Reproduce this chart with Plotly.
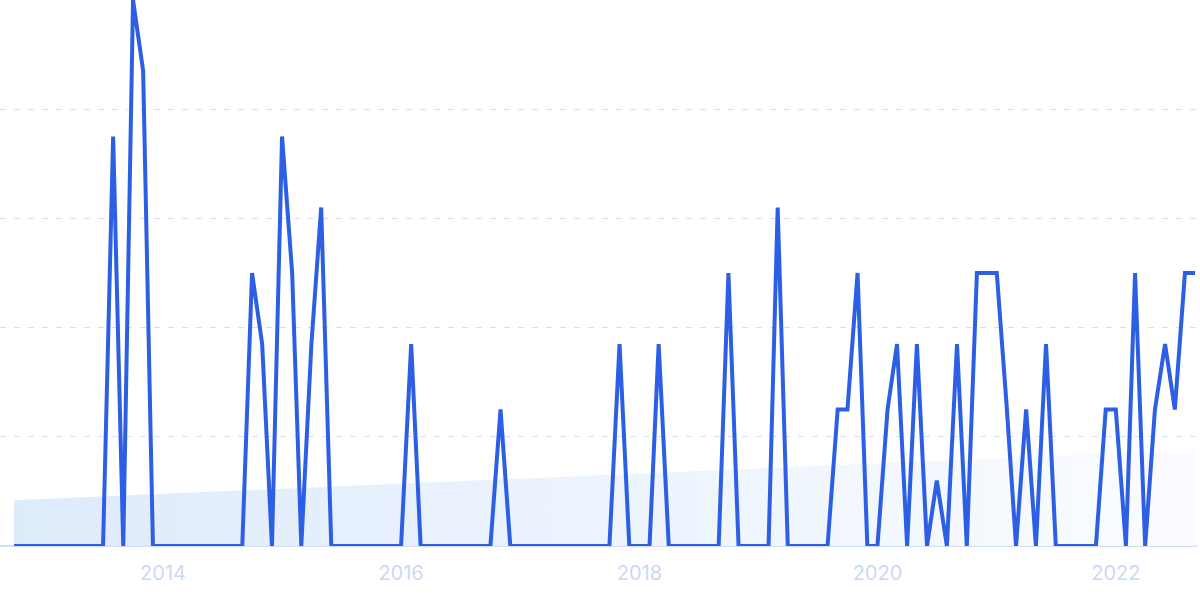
import pandas as pd
import plotly.graph_objects as go

# Monthly series, Oct 2012 .. Sep 2022
start_month = "2012-10-01"
values = [
    0, 0, 0, 0, 0, 0, 0, 0, 0, 0,        # 2012-10 .. 2013-07
    75, 0, 100, 87, 0, 0, 0, 0, 0, 0,    # 2013-08 .. 2014-05
    0, 0, 0, 0, 50, 37, 0, 75, 50, 0,    # 2014-06 .. 2015-03
    37, 62, 0, 0, 0, 0, 0, 0, 0, 0,      # 2015-04 .. 2016-01
    37, 0, 0, 0, 0, 0, 0, 0, 0, 25,      # 2016-02 .. 2016-11
    0, 0, 0, 0, 0, 0, 0, 0, 0, 0,        # 2016-12 .. 2017-09
    0, 37, 0, 0, 0, 37, 0, 0, 0, 0,      # 2017-10 .. 2018-07
    0, 0, 50, 0, 0, 0, 0, 62, 0, 0,      # 2018-08 .. 2019-05
    0, 0, 0, 25, 25, 50, 0, 0, 25, 37,   # 2019-06 .. 2020-03
    0, 37, 0, 12, 0, 37, 0, 50, 50, 50,  # 2020-04 .. 2021-01
    25, 0, 25, 0, 37, 0, 0, 0, 0, 0,     # 2021-02 .. 2021-11
    25, 25, 0, 50, 0, 25, 37, 25, 50, 50 # 2021-12 .. 2022-09
]
months = pd.date_range(start_month, periods=len(values), freq="MS")

# Trend band (start and end values)
trend_values = [8.4, 17.6]
trend_dates = [months[0], months[-1]]

tick_dates = ["2014-01-01", "2016-01-01", "2018-01-01", "2020-01-01", "2022-01-01"]
tick_labels = ["2014", "2016", "2018", "2020", "2022"]
grid_values = [20, 40, 60, 80, 100]

fig = go.Figure()
fig.add_trace(go.Scatter(
    x=trend_dates, y=trend_values, mode="lines",
    line=dict(width=0, color="rgba(0,0,0,0)"),
    fill="tozeroy",
    fillgradient=dict(type="horizontal",
                      colorscale=[[0, "#deebfb"], [1, "#fafcff"]]),
    hoverinfo="skip", showlegend=False,
))
fig.add_trace(go.Scatter(
    x=months, y=values, mode="lines",
    line=dict(color="#2d5fe4", width=4, shape="linear"),
    showlegend=False,
))

fig.update_layout(
    width=1200, height=599,
    margin=dict(l=0, r=3, t=0, b=53),
    paper_bgcolor="white", plot_bgcolor="white",
    xaxis=dict(
        type="date",
        range=["2012-08-19", "2022-09-07"],
        tickvals=tick_dates, ticktext=tick_labels,
        showgrid=False, showline=False, zeroline=False, ticks="",
        ticklabelstandoff=13,
        tickfont=dict(family="Inter, Open Sans, sans-serif", size=20, color="#cbd8f6"),
    ),
    yaxis=dict(
        range=[0, 100],
        tickvals=grid_values, showticklabels=False,
        showgrid=True, gridcolor="#d3dffa", gridwidth=1.3, griddash="6px,8px",
        zeroline=True, zerolinecolor="#d3def6", zerolinewidth=1.5,
        showline=False, ticks="",
    ),
)

fig.write_html(
    "out.html",
    config={"displayModeBar": False},
    post_script="document.body.style.margin='0';document.body.style.padding='0';",
)
